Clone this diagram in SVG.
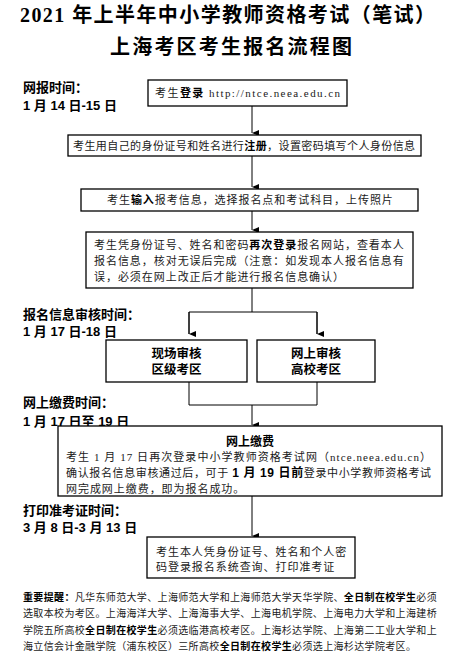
<svg xmlns="http://www.w3.org/2000/svg" width="465" height="654" viewBox="0 0 465 654">
<defs>
<marker id="arr" markerUnits="userSpaceOnUse" markerWidth="7" markerHeight="7" refX="3" refY="7" orient="auto-start-reverse" viewBox="0 0 6 7">
<path d="M0,0 L6,0 L3,7 Z" fill="#000"/>
</marker>
<style>
.title{font-family:"Liberation Serif","Noto Sans CJK SC",serif;font-weight:bold;font-size:20px;fill:#000}
.head{font-family:"Liberation Sans","Noto Sans CJK SC",sans-serif;font-weight:bold;font-size:13px;fill:#000}
.body{font-family:"Liberation Serif","Noto Sans CJK SC",serif;font-size:11px;letter-spacing:0.95px;fill:#1a1a1a}
.foot{font-family:"Liberation Serif","Noto Sans CJK SC",serif;font-size:10px;letter-spacing:0.35px;fill:#1a1a1a}
.b{font-weight:bold;fill:#000}
.bx{fill:#fff;stroke:#000;stroke-width:1.3}
.sub{font-family:"Liberation Sans","Noto Sans CJK SC",sans-serif;font-weight:bold;font-size:12.5px;fill:#000}
.ln{fill:none;stroke:#000;stroke-width:1}
</style>
</defs>
<rect width="465" height="654" fill="#fff"/>
<g id="title">
<text class="title" x="20" y="22" textLength="415" lengthAdjust="spacing">2021 年上半年中小学教师资格考试（笔试）</text>
<text class="title" x="110" y="54" textLength="242" lengthAdjust="spacing">上海考区考生报名流程图</text>
</g>
<g id="labels">
<text class="head" x="23" y="92">网报时间：</text>
<text class="head" x="23" y="110">1 月 14 日-15 日</text>
<text class="head" x="23" y="319">报名信息审核时间：</text>
<text class="head" x="23" y="336">1 月 17 日-18 日</text>
<text class="head" x="23" y="407">网上缴费时间：</text>
<text class="head" x="23" y="426">1 月 17 日至 19 日</text>
<text class="head" x="23" y="515">打印准考证时间：</text>
<text class="head" x="23" y="532">3 月 8 日-3 月 13 日</text>
</g>
<g id="connectors">
<line class="ln" x1="252" y1="106" x2="252" y2="133" marker-end="url(#arr)"/>
<line class="ln" x1="252" y1="156" x2="252" y2="187" marker-end="url(#arr)"/>
<line class="ln" x1="252" y1="211" x2="252" y2="230" marker-end="url(#arr)"/>
<polyline class="ln" points="252,288 252,312"/>
<polyline class="ln" points="189,334 189,312 317,312 317,334"/>
<line class="ln" x1="189" y1="312" x2="189" y2="334" marker-end="url(#arr)"/>
<line class="ln" x1="317" y1="312" x2="317" y2="334" marker-end="url(#arr)"/>
<polyline class="ln" points="189,382 189,405 317,405 317,382"/>
<line class="ln" x1="252" y1="405" x2="252" y2="425" marker-end="url(#arr)"/>
<line class="ln" x1="252" y1="496" x2="252" y2="536" marker-end="url(#arr)"/>
</g>
<g id="login">
<rect class="bx" x="148" y="80" width="199" height="26"/>
<text class="body" x="155" y="97" textLength="186" lengthAdjust="spacing">考生<tspan class="b">登录</tspan> http://ntce.neea.edu.cn</text>
</g>
<g id="register">
<rect class="bx" x="68" y="135" width="353" height="21"/>
<text class="body" x="73" y="150" textLength="343" lengthAdjust="spacing">考生用自己的身份证号和姓名进行<tspan class="b">注册</tspan>，设置密码填写个人身份信息</text>
</g>
<g id="input">
<rect class="bx" x="81" y="189" width="337" height="22"/>
<text class="body" x="107" y="204">考生<tspan class="b">输入</tspan>报考信息，选择报名点和考试科目，上传照片</text>
</g>
<g id="relogin">
<rect class="bx" x="86" y="232" width="327" height="56"/>
<text class="body" x="94" y="249">考生凭身份证号、姓名和密码<tspan class="b">再次登录</tspan>报名网站，查看本人</text>
<text class="body" x="94" y="265">报名信息，核对无误后完成（注意：如发现本人报名信息有</text>
<text class="body" x="94" y="281">误，必须在网上改正后才能进行报名信息确认）</text>
</g>
<g id="onsite">
<rect class="bx" x="106" y="340" width="141" height="42"/>
<text class="sub" x="176.5" y="357.5" text-anchor="middle">现场审核</text>
<text class="sub" x="176.5" y="373.5" text-anchor="middle">区级考区</text>
</g>
<g id="online">
<rect class="bx" x="257" y="340" width="118" height="42"/>
<text class="sub" x="316" y="357.5" text-anchor="middle">网上审核</text>
<text class="sub" x="316" y="373.5" text-anchor="middle">高校考区</text>
</g>
<g id="payment">
<rect class="bx" x="58" y="426" width="384" height="70"/>
<text class="sub" x="250" y="445.5" text-anchor="middle" style="font-size:12px">网上缴费</text>
<text class="body" x="66" y="461" textLength="366" lengthAdjust="spacing">考生 1 月 17 日再次登录中小学教师资格考试网（ntce.neea.edu.cn）</text>
<text class="body" x="66" y="477" textLength="366" lengthAdjust="spacing">确认报名信息审核通过后，可于 <tspan class="b" style="font-family:'Liberation Sans','Noto Sans CJK SC',sans-serif;font-size:12px">1 月 19 日前</tspan>登录中小学教师资格考试</text>
<text class="body" x="66" y="493">网完成网上缴费，即为报名成功。</text>
</g>
<g id="print">
<rect class="bx" x="147" y="537" width="208" height="41"/>
<text class="body" x="156" y="556">考生本人凭身份证号、姓名和个人密</text>
<text class="body" x="156" y="571">码登录报名系统查询、打印准考证</text>
</g>
<g id="notice">
<text class="foot" x="23" y="601"><tspan class="b">重要提醒：</tspan>凡华东师范大学、上海师范大学和上海师范大学天华学院、<tspan class="b">全日制在校学生</tspan>必须</text>
<text class="foot" x="23" y="617">选取本校为考区。上海海洋大学、上海海事大学、上海电机学院、上海电力大学和上海建桥</text>
<text class="foot" x="23" y="634">学院五所高校<tspan class="b">全日制在校学生</tspan>必须选临港高校考区。上海杉达学院、上海第二工业大学和上</text>
<text class="foot" x="23" y="650">海立信会计金融学院（浦东校区）三所高校<tspan class="b">全日制在校学生</tspan>必须选上海杉达学院考区。</text>
</g>
</svg>
